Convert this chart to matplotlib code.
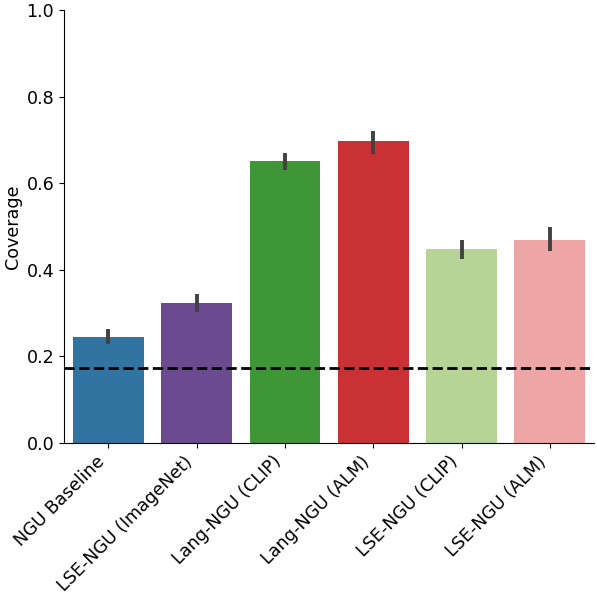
import numpy as np
import matplotlib
matplotlib.use("Agg")
import matplotlib.pyplot as plt

# Values
methods = ["NGU Baseline", "LSE-NGU (ImageNet)", "Lang-NGU (CLIP)",
           "Lang-NGU (ALM)", "LSE-NGU (CLIP)", "LSE-NGU (ALM)"]
coverage = [0.245, 0.324, 0.652, 0.697, 0.449, 0.470]
ci_low = [0.229, 0.302, 0.630, 0.669, 0.426, 0.443]
ci_high = [0.264, 0.345, 0.670, 0.721, 0.470, 0.500]
baseline_level = 0.174

colors = ["#3274a1", "#6b4a8f", "#3f9637", "#c93134", "#b5d496", "#eda6a5"]

fig = plt.figure(figsize=(5.97, 5.95), dpi=100)
ax = fig.add_axes([64 / 597, 1 - 443 / 595, 530 / 597, (443 - 10.3) / 595])

x = np.arange(len(methods))
ax.bar(x, coverage, width=0.8, color=colors, zorder=1)
ax.vlines(x, ci_low, ci_high, color="#424242", linewidth=2.8, zorder=3)
ax.axhline(baseline_level, color="black", linestyle="--", linewidth=2.0, zorder=4)

ax.set_xlim(-0.5, len(methods) - 0.5)
ax.set_ylim(0, 1.0)
ax.set_xticks(x)
ax.set_xticklabels(methods, rotation=45, ha="right", fontsize=12.6)
ax.set_yticks([0.0, 0.2, 0.4, 0.6, 0.8, 1.0])
ax.tick_params(axis="y", labelsize=12.6)
ax.set_ylabel("Coverage", fontsize=12.6, labelpad=3)

ax.spines["top"].set_visible(False)
ax.spines["right"].set_visible(False)

fig.savefig("out.png", dpi=100)
